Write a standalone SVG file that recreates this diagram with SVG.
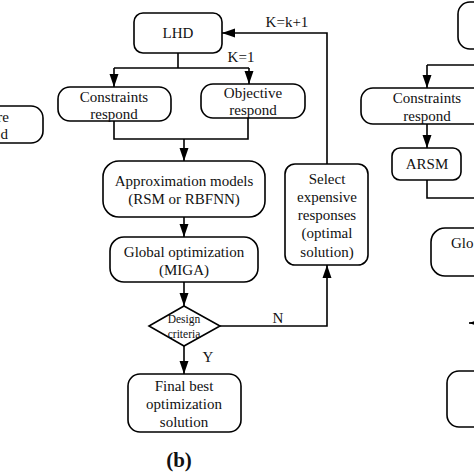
<svg xmlns="http://www.w3.org/2000/svg" width="474" height="474" viewBox="0 0 474 474">
<defs>
<style>
.box{fill:#fff;stroke:#000;stroke-width:1.6}
.ln{fill:none;stroke:#000;stroke-width:1.6}
.t{font-family:"Liberation Serif","Times New Roman",serif;font-size:15px;fill:#111;text-anchor:middle}
.s{font-size:11.5px}
.b{font-weight:bold;font-size:21px}
</style>
<marker id="ah" markerUnits="userSpaceOnUse" markerWidth="14" markerHeight="10" refX="13" refY="5" orient="auto">
<path d="M0,0.5 L13,5 L0,9.5 z" fill="#000"/>
</marker>
</defs>
<rect width="474" height="474" fill="#fff"/>

<g id="connectors">
<path class="ln" d="M178,53 V68"/>
<path class="ln" d="M114,68 H249"/>
<path class="ln" d="M114,68 V87" marker-end="url(#ah)"/>
<path class="ln" d="M249,68 V84" marker-end="url(#ah)"/>
<path class="ln" d="M114,121 V139 H248 V118"/>
<path class="ln" d="M184,139 V161" marker-end="url(#ah)"/>
<path class="ln" d="M184,217 V237" marker-end="url(#ah)"/>
<path class="ln" d="M184,282 V306" marker-end="url(#ah)"/>
<path class="ln" d="M184,346 V374" marker-end="url(#ah)"/>
<path class="ln" d="M220,326 H327 V265" marker-end="url(#ah)"/>
<path class="ln" d="M327,164 V33 H222" marker-end="url(#ah)"/>
<path class="ln" d="M427,65 H480"/>
<path class="ln" d="M427,65 V88" marker-end="url(#ah)"/>
<path class="ln" d="M427,124 V148" marker-end="url(#ah)"/>
<path class="ln" d="M427,180 V198 H480"/>
<path class="ln" d="M480,323 H469" marker-end="url(#ah)"/>
</g>

<g id="labels" class="t">
<text x="241" y="62">K=1</text>
<text x="287" y="27">K=k+1</text>
<text x="278" y="323">N</text>
<text x="208" y="362">Y</text>
<text x="179" y="467" class="t b">(b)</text>
</g>

<g id="lhd">
<rect class="box" x="134" y="13" width="88" height="40" rx="9"/>
<text class="t" x="178" y="38">LHD</text>
</g>

<g id="constraints">
<rect class="box" x="58" y="87" width="113" height="34" rx="12"/>
<text class="t" x="114" y="102">Constraints</text>
<text class="t" x="114" y="119">respond</text>
</g>

<g id="objective">
<rect class="box" x="201" y="84" width="104" height="34" rx="12"/>
<text class="t" x="253" y="98">Objective</text>
<text class="t" x="253" y="115">respond</text>
</g>

<g id="approx">
<rect class="box" x="103" y="161" width="162" height="56" rx="16"/>
<text class="t" x="184" y="186">Approximation models</text>
<text class="t" x="184" y="204">(RSM or RBFNN)</text>
</g>

<g id="global">
<rect class="box" x="110" y="237" width="148" height="45" rx="14"/>
<text class="t" x="184" y="257">Global optimization</text>
<text class="t" x="184" y="275">(MIGA)</text>
</g>

<g id="criteria">
<polygon class="box" points="184,306 220,326 184,346 149,326"/>
<text class="t s" x="184" y="323">Design</text>
<text class="t s" x="184" y="338">criteria</text>
</g>

<g id="final">
<rect class="box" x="128" y="374" width="113" height="58" rx="12"/>
<text class="t" x="184" y="391">Final best</text>
<text class="t" x="184" y="409">optimization</text>
<text class="t" x="184" y="427">solution</text>
</g>

<g id="select">
<rect class="box" x="285" y="164" width="83" height="101" rx="10"/>
<text class="t" x="327" y="184">Select</text>
<text class="t" x="327" y="202">expensive</text>
<text class="t" x="327" y="220">responses</text>
<text class="t" x="327" y="238">(optimal</text>
<text class="t" x="327" y="257">solution)</text>
</g>

<g id="left-partial">
<rect class="box" x="-40" y="106" width="83" height="37" rx="12"/>
<text class="t" x="9" y="122" style="text-anchor:end">re</text>
<text class="t" x="8" y="139" style="text-anchor:end">d</text>
</g>

<g id="right-top">
<rect class="box" x="458" y="2" width="60" height="47" rx="12"/>
</g>

<g id="right-constraints">
<rect class="box" x="361" y="88" width="140" height="36" rx="12"/>
<text class="t" x="427" y="103">Constraints</text>
<text class="t" x="427" y="121">respond</text>
</g>

<g id="arsm">
<rect class="box" x="392" y="148" width="69" height="32" rx="8"/>
<text class="t" x="427" y="169">ARSM</text>
</g>

<g id="right-global">
<rect class="box" x="431" y="228" width="80" height="48" rx="14"/>
<text class="t" x="451" y="248" style="text-anchor:start">Glo</text>
</g>

<g id="right-bottom">
<rect class="box" x="447" y="371" width="60" height="56" rx="12"/>
</g>
</svg>
